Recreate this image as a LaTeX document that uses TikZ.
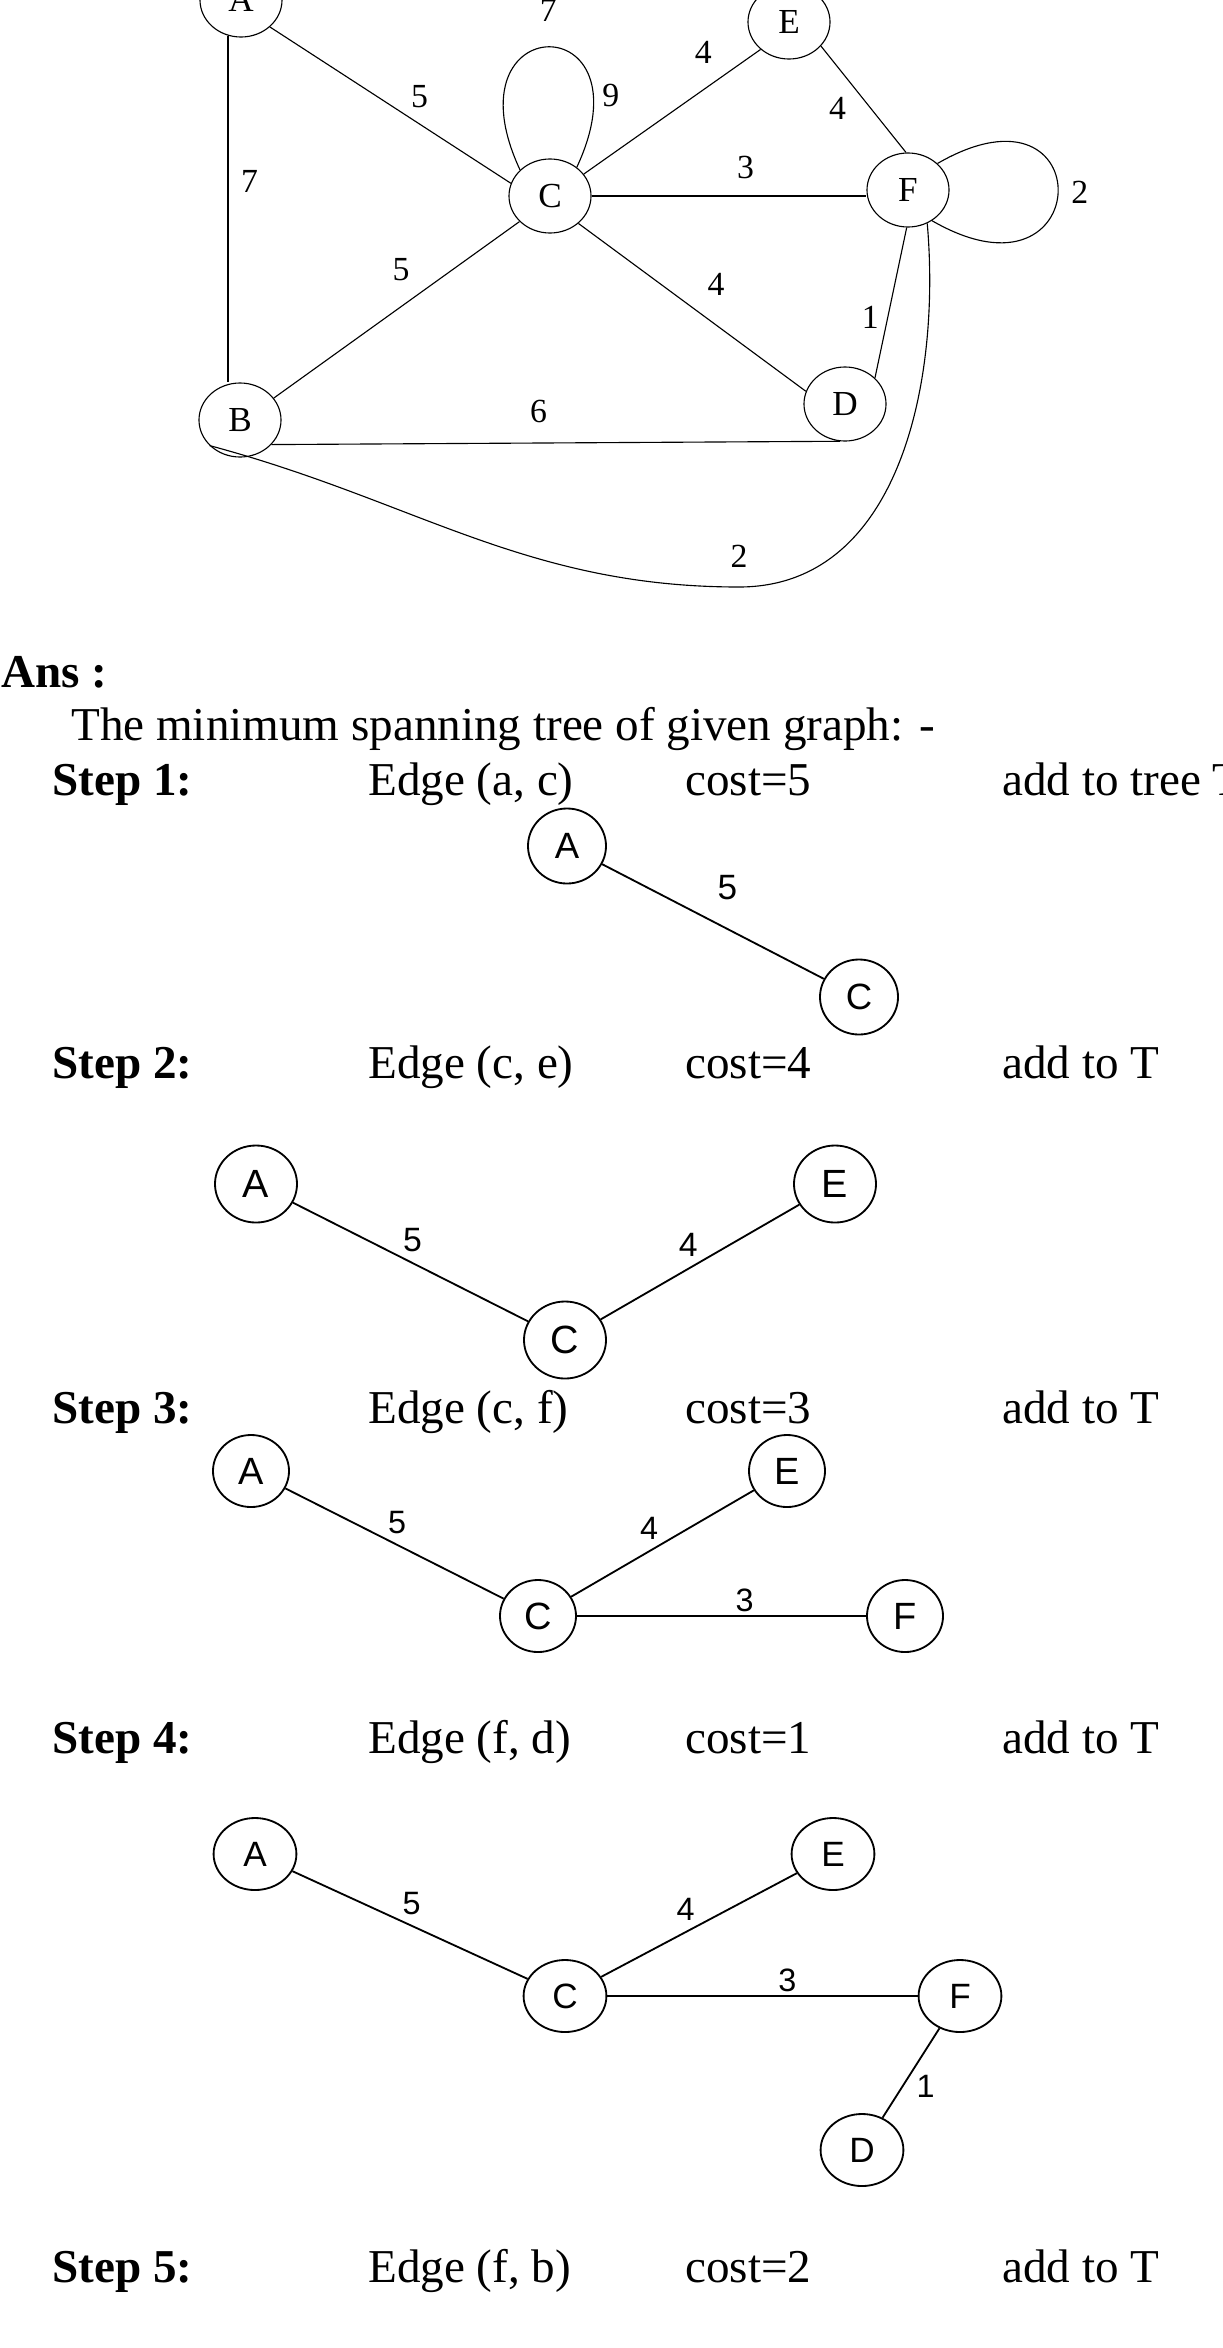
\documentclass[tikz,border=0pt]{standalone}
\usepackage{fontspec}
\setmainfont{Liberation Serif}
\setsansfont{Liberation Sans}
\usetikzlibrary{shapes.geometric}

\tikzset{
  gnode/.style={ellipse, draw, line width=0.8pt, minimum width=2.05cm, minimum height=1.85cm, inner sep=0pt, font=\fontsize{25}{25}\selectfont},
  glbl/.style={font=\fontsize{24}{24}\selectfont, inner sep=4pt},
  tnode/.style={ellipse, draw, line width=1.3pt, minimum width=2.02cm, minimum height=1.87cm, inner sep=0pt},
  tlbl/.style={inner sep=2.5pt},
  tedge/.style={line width=1.3pt},
  txt/.style={anchor=base west, inner sep=0pt, font=\fontsize{33.5}{40}\selectfont},
  btxt/.style={txt, font=\bfseries\fontsize{33.5}{40}\selectfont},
}

\begin{document}
\begin{tikzpicture}[x=0.025cm, y=-0.025cm]
  \useasboundingbox (0,0) rectangle (1223,2348);
  \clip (0,0) rectangle (1223,2348);

  % given graph
  \node[gnode] (A) at (241,0) {A};
  \node[gnode] (B) at (240,420) {B};
  \node[gnode] (C) at (550,196) {C};
  \node[gnode] (D) at (845,404) {D};
  \node[gnode] (E) at (789,22) {E};
  \node[gnode] (F) at (908,190) {F};
  \coordinate (bot) at (739,587);

  \begin{scope}[line width=0.8pt]
    \draw (A.-110) -- node[glbl, pos=.42, right=5pt] {7} (A.-110 |- B.north);
    \draw (A.-43) -- node[glbl, pos=.56, above right] {5} (C.162);
    \draw (B.33) -- node[glbl, pos=.6, above left=4pt] {5} (C.-140);
    \draw (C.33) -- node[glbl, pos=.79, above left=4pt] {4} (E.-136);
    \draw (E.-37) -- node[glbl, pos=.4, below left=2pt] {4} (F.93);
    \draw (C.east) -- node[glbl, pos=.56, above=8pt] {3} (C.east -| F.west);
    \draw (C.-44) -- node[glbl, pos=.51, above right=5pt] {4} (D.162);
    \draw (B.-38) -- node[glbl, pos=.47, above=10pt] {6} (D.-98);
    \draw (F.-92) -- node[glbl, pos=.6, left=2pt] {1} (D.41);
    % loops
    \draw (C.139) to[out=115, in=65, distance=4.48cm]
      node[glbl, pos=.5, above=13.5pt] {7} node[glbl, pos=.82, right=2pt] {9} (C.47);
    \draw (F.42) to[out=30, in=-30, distance=4.75cm] node[glbl, pos=.5, right=5pt] {2} (F.-52);
    % long edge from B round to F
    \draw (B.-140) to[out=-15, in=180] node[glbl, pos=1, above=9.5pt] {2} (bot)
      to[out=0, in=-85] (F.-60);
  \end{scope}

  % answer text
  \node[btxt] (ans) at (1,687) {Ans :};
  \node[txt] (intro) at (71,740) {The minimum spanning tree of given graph: -};

  \node[btxt] (s1) at (52,795) {Step 1:};
  \node[txt] (s1e) at (368,795) {Edge (a, c)};
  \node[txt] (s1c) at (685,795) {cost=5};
  \node[txt] (s1t) at (1002,795) {add to tree T};

  % step 1 tree
  \begin{scope}[tnode/.append style={minimum width=1.95cm, minimum height=1.875cm, font=\sffamily\fontsize{26}{26}\selectfont},
                tlbl/.append style={font=\sffamily\fontsize{25}{25}\selectfont}]
    \node[tnode] (a1) at (567,846) {A};
    \node[tnode] (c1) at (859,997) {C};
    \draw[tedge] (a1) -- node[tlbl, pos=.45, above right=8pt] {5} (c1);
  \end{scope}

  \node[btxt] (s2) at (52,1078) {Step 2:};
  \node[txt] (s2e) at (368,1078) {Edge (c, e)};
  \node[txt] (s2c) at (685,1078) {cost=4};
  \node[txt] (s2t) at (1002,1078) {add to T};

  % step 2 tree
  \begin{scope}[tnode/.append style={minimum width=2.05cm, minimum height=1.925cm, font=\sffamily\fontsize{28}{28}\selectfont},
                tlbl/.append style={font=\sffamily\fontsize{24}{24}\selectfont}]
    \node[tnode] (a2) at (256,1184) {A};
    \node[tnode] (e2) at (835,1184) {E};
    \node[tnode] (c2) at (565,1340) {C};
    \draw[tedge] (a2) -- node[tlbl, pos=.45, above right] {5} (c2);
    \draw[tedge] (c2) -- node[tlbl, pos=.51, above left] {4} (e2);
  \end{scope}

  \node[btxt] (s3) at (52,1423) {Step 3:};
  \node[txt] (s3e) at (368,1423) {Edge (c, f)};
  \node[txt] (s3c) at (685,1423) {cost=3};
  \node[txt] (s3t) at (1002,1423) {add to T};

  % step 3 tree
  \begin{scope}[tnode/.append style={minimum width=1.9cm, minimum height=1.8cm, font=\sffamily\fontsize{27}{27}\selectfont},
                tlbl/.append style={font=\sffamily\fontsize{23}{23}\selectfont}]
    \node[tnode] (a3) at (251,1471) {A};
    \node[tnode] (e3) at (787,1471) {E};
    \node[tnode] (c3) at (538,1616) {C};
    \node[tnode] (f3) at (905,1616) {F};
    \draw[tedge] (a3) -- node[tlbl, pos=.45, above right] {5} (c3);
    \draw[tedge] (c3) -- node[tlbl, pos=.5, above left] {4} (e3);
    \draw[tedge] (c3) -- node[tlbl, pos=.58, above] {3} (f3);
  \end{scope}

  \node[btxt] (s4) at (52,1753) {Step 4:};
  \node[txt] (s4e) at (368,1753) {Edge (f, d)};
  \node[txt] (s4c) at (685,1753) {cost=1};
  \node[txt] (s4t) at (1002,1753) {add to T};

  % step 4 tree
  \begin{scope}[tnode/.append style={minimum width=2.07cm, minimum height=1.8cm, font=\sffamily\fontsize{25}{25}\selectfont},
                tlbl/.append style={font=\sffamily\fontsize{23}{23}\selectfont}]
    \node[tnode] (a4) at (255,1854) {A};
    \node[tnode] (e4) at (833,1854) {E};
    \node[tnode] (c4) at (565,1996) {C};
    \node[tnode] (f4) at (960,1996) {F};
    \node[tnode] (d4) at (862,2150) {D};
    \draw[tedge] (a4) -- node[tlbl, pos=.45, above right] {5} (c4);
    \draw[tedge] (c4) -- node[tlbl, pos=.5, above left] {4} (e4);
    \draw[tedge] (c4) -- node[tlbl, pos=.58, above] {3} (f4);
    \draw[tedge] (f4) -- node[tlbl, pos=.48, below right] {1} (d4);
  \end{scope}

  \node[btxt] (s5) at (52,2282) {Step 5:};
  \node[txt] (s5e) at (368,2282) {Edge (f, b)};
  \node[txt] (s5c) at (685,2282) {cost=2};
  \node[txt] (s5t) at (1002,2282) {add to T};
\end{tikzpicture}
\end{document}
